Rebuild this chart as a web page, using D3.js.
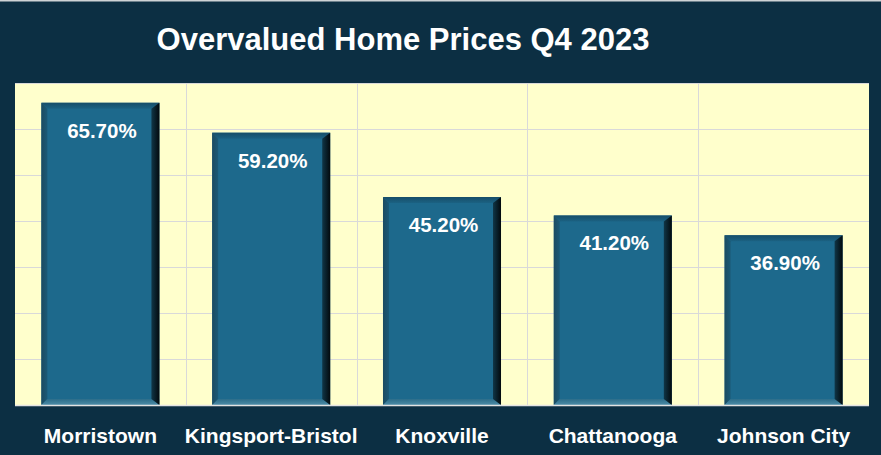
<!DOCTYPE html>
<html>
<head>
<meta charset="utf-8">
<script src="https://cdn.jsdelivr.net/npm/d3@7"></script>
<style>
  html, body { margin: 0; padding: 0; background: #0c2f43; }
  svg { display: block; }
</style>
</head>
<body>
<svg id="chart" width="881" height="455"></svg>
<script>
const categories = ["Morristown", "Kingsport-Bristol", "Knoxville", "Chattanooga", "Johnson City"];
const values = [0.657, 0.592, 0.452, 0.412, 0.369];
const valueLabels = ["65.70%", "59.20%", "45.20%", "41.20%", "36.90%"];
const yTicks = [0, 0.1, 0.2, 0.3, 0.4, 0.5, 0.6, 0.7];
const title = "Overvalued Home Prices Q4 2023";

const W = 881, H = 455;
const plot = { left: 15, right: 869, top: 83, bottom: 405 };
const FONT = "'Liberation Sans', Arial, sans-serif";

const svg = d3.select("#chart");

// defs: gradients for bevels
const defs = svg.append("defs");
function grad(id, x1, y1, x2, y2, c1, c2) {
  const g = defs.append("linearGradient").attr("id", id)
    .attr("x1", x1).attr("y1", y1).attr("x2", x2).attr("y2", y2);
  g.append("stop").attr("offset", "0%").attr("stop-color", c1);
  g.append("stop").attr("offset", "100%").attr("stop-color", c2);
}
grad("bvTop", 0, 0, 0, 1, "#174e69", "#1b6283");
grad("bvLeft", 0, 0, 1, 0, "#1c4b61", "#1b5a77");
grad("bvRight", 0, 0, 1, 0, "#103647", "#02090d");
grad("bvBottom", 0, 0, 0, 1, "#2c6d8a", "#4c8ca7");

// background
svg.append("rect").attr("width", W).attr("height", H).attr("fill", "#0c2f43");
svg.append("rect").attr("x", 0).attr("y", 0).attr("width", W).attr("height", 1.5).attr("fill", "#cfd3d6");

// scales
const x = d3.scaleBand().domain(categories).range([plot.left, plot.right])
  .paddingInner(0.309).paddingOuter(0.1545);
const y = d3.scaleLinear().domain([0, 0.7]).range([plot.bottom, plot.top]);

// plot area
svg.append("rect")
  .attr("x", plot.left).attr("y", plot.top)
  .attr("width", plot.right - plot.left).attr("height", plot.bottom - plot.top)
  .attr("fill", "#ffffcc");

// horizontal gridlines
svg.append("g").selectAll("line").data(yTicks.slice(1)).join("line")
  .attr("x1", plot.left).attr("x2", plot.right)
  .attr("y1", d => Math.round(y(d)) + 0.5).attr("y2", d => Math.round(y(d)) + 0.5)
  .attr("stroke", "#d9d9d9").attr("stroke-width", 1);

// vertical gridlines (category boundaries)
const step = x.step();
const boundaries = categories.slice(1).map(c => x(c) - step * x.paddingInner() / 2);
svg.append("g").selectAll("line").data(boundaries).join("line")
  .attr("x1", d => Math.round(d) + 0.5).attr("x2", d => Math.round(d) + 0.5)
  .attr("y1", plot.top).attr("y2", plot.bottom)
  .attr("stroke", "#d9d9d9").attr("stroke-width", 1);

// bars with bevel
const b = 6;
const bars = svg.append("g").selectAll("g").data(categories).join("g");
bars.each(function (c, i) {
  const g = d3.select(this);
  const bx = x(c), bw = x.bandwidth();
  const by = y(values[i]), bh = y(0) - y(values[i]);
  g.append("rect").attr("x", bx).attr("y", by).attr("width", bw).attr("height", bh).attr("fill", "#1d698c");
  const pts = (arr) => arr.map(p => p.join(",")).join(" ");
  g.append("polygon").attr("points", pts([[bx, by], [bx + bw, by], [bx + bw - b, by + b], [bx + b, by + b]])).attr("fill", "url(#bvTop)");
  g.append("polygon").attr("points", pts([[bx, by], [bx + b, by + b], [bx + b, by + bh - b], [bx, by + bh]])).attr("fill", "url(#bvLeft)");
  g.append("polygon").attr("points", pts([[bx, by + bh], [bx + b, by + bh - b], [bx + bw - b, by + bh - b], [bx + bw, by + bh]])).attr("fill", "url(#bvBottom)");
  g.append("polygon").attr("points", pts([[bx + bw, by], [bx + bw, by + bh], [bx + bw - b - 2, by + bh - b], [bx + bw - b - 2, by + b]])).attr("fill", "url(#bvRight)");
});

// axis baseline
svg.append("line")
  .attr("x1", plot.left).attr("x2", plot.right)
  .attr("y1", plot.bottom + 0.5).attr("y2", plot.bottom + 0.5)
  .attr("stroke", "#e3e3e3").attr("stroke-width", 1.5);

// value labels
svg.append("g").selectAll("text").data(categories).join("text")
  .attr("x", c => x(c) + x.bandwidth() / 2 + 1.5)
  .attr("y", (c, i) => y(values[i]) + 35)
  .attr("text-anchor", "middle")
  .attr("font-family", FONT).attr("font-weight", "bold").attr("font-size", "20.5px")
  .attr("fill", "#ffffff")
  .text((c, i) => valueLabels[i]);

// category axis labels
svg.append("g").selectAll("text").data(categories).join("text")
  .attr("x", c => x(c) + x.bandwidth() / 2)
  .attr("y", 443)
  .attr("text-anchor", "middle")
  .attr("font-family", FONT).attr("font-weight", "bold").attr("font-size", "21px")
  .attr("fill", "#ffffff")
  .text(c => c);

// title
svg.append("text")
  .attr("x", 403).attr("y", 50)
  .attr("text-anchor", "middle")
  .attr("font-family", FONT).attr("font-weight", "bold").attr("font-size", "31px")
  .attr("fill", "#ffffff")
  .text(title);
</script>
</body>
</html>
